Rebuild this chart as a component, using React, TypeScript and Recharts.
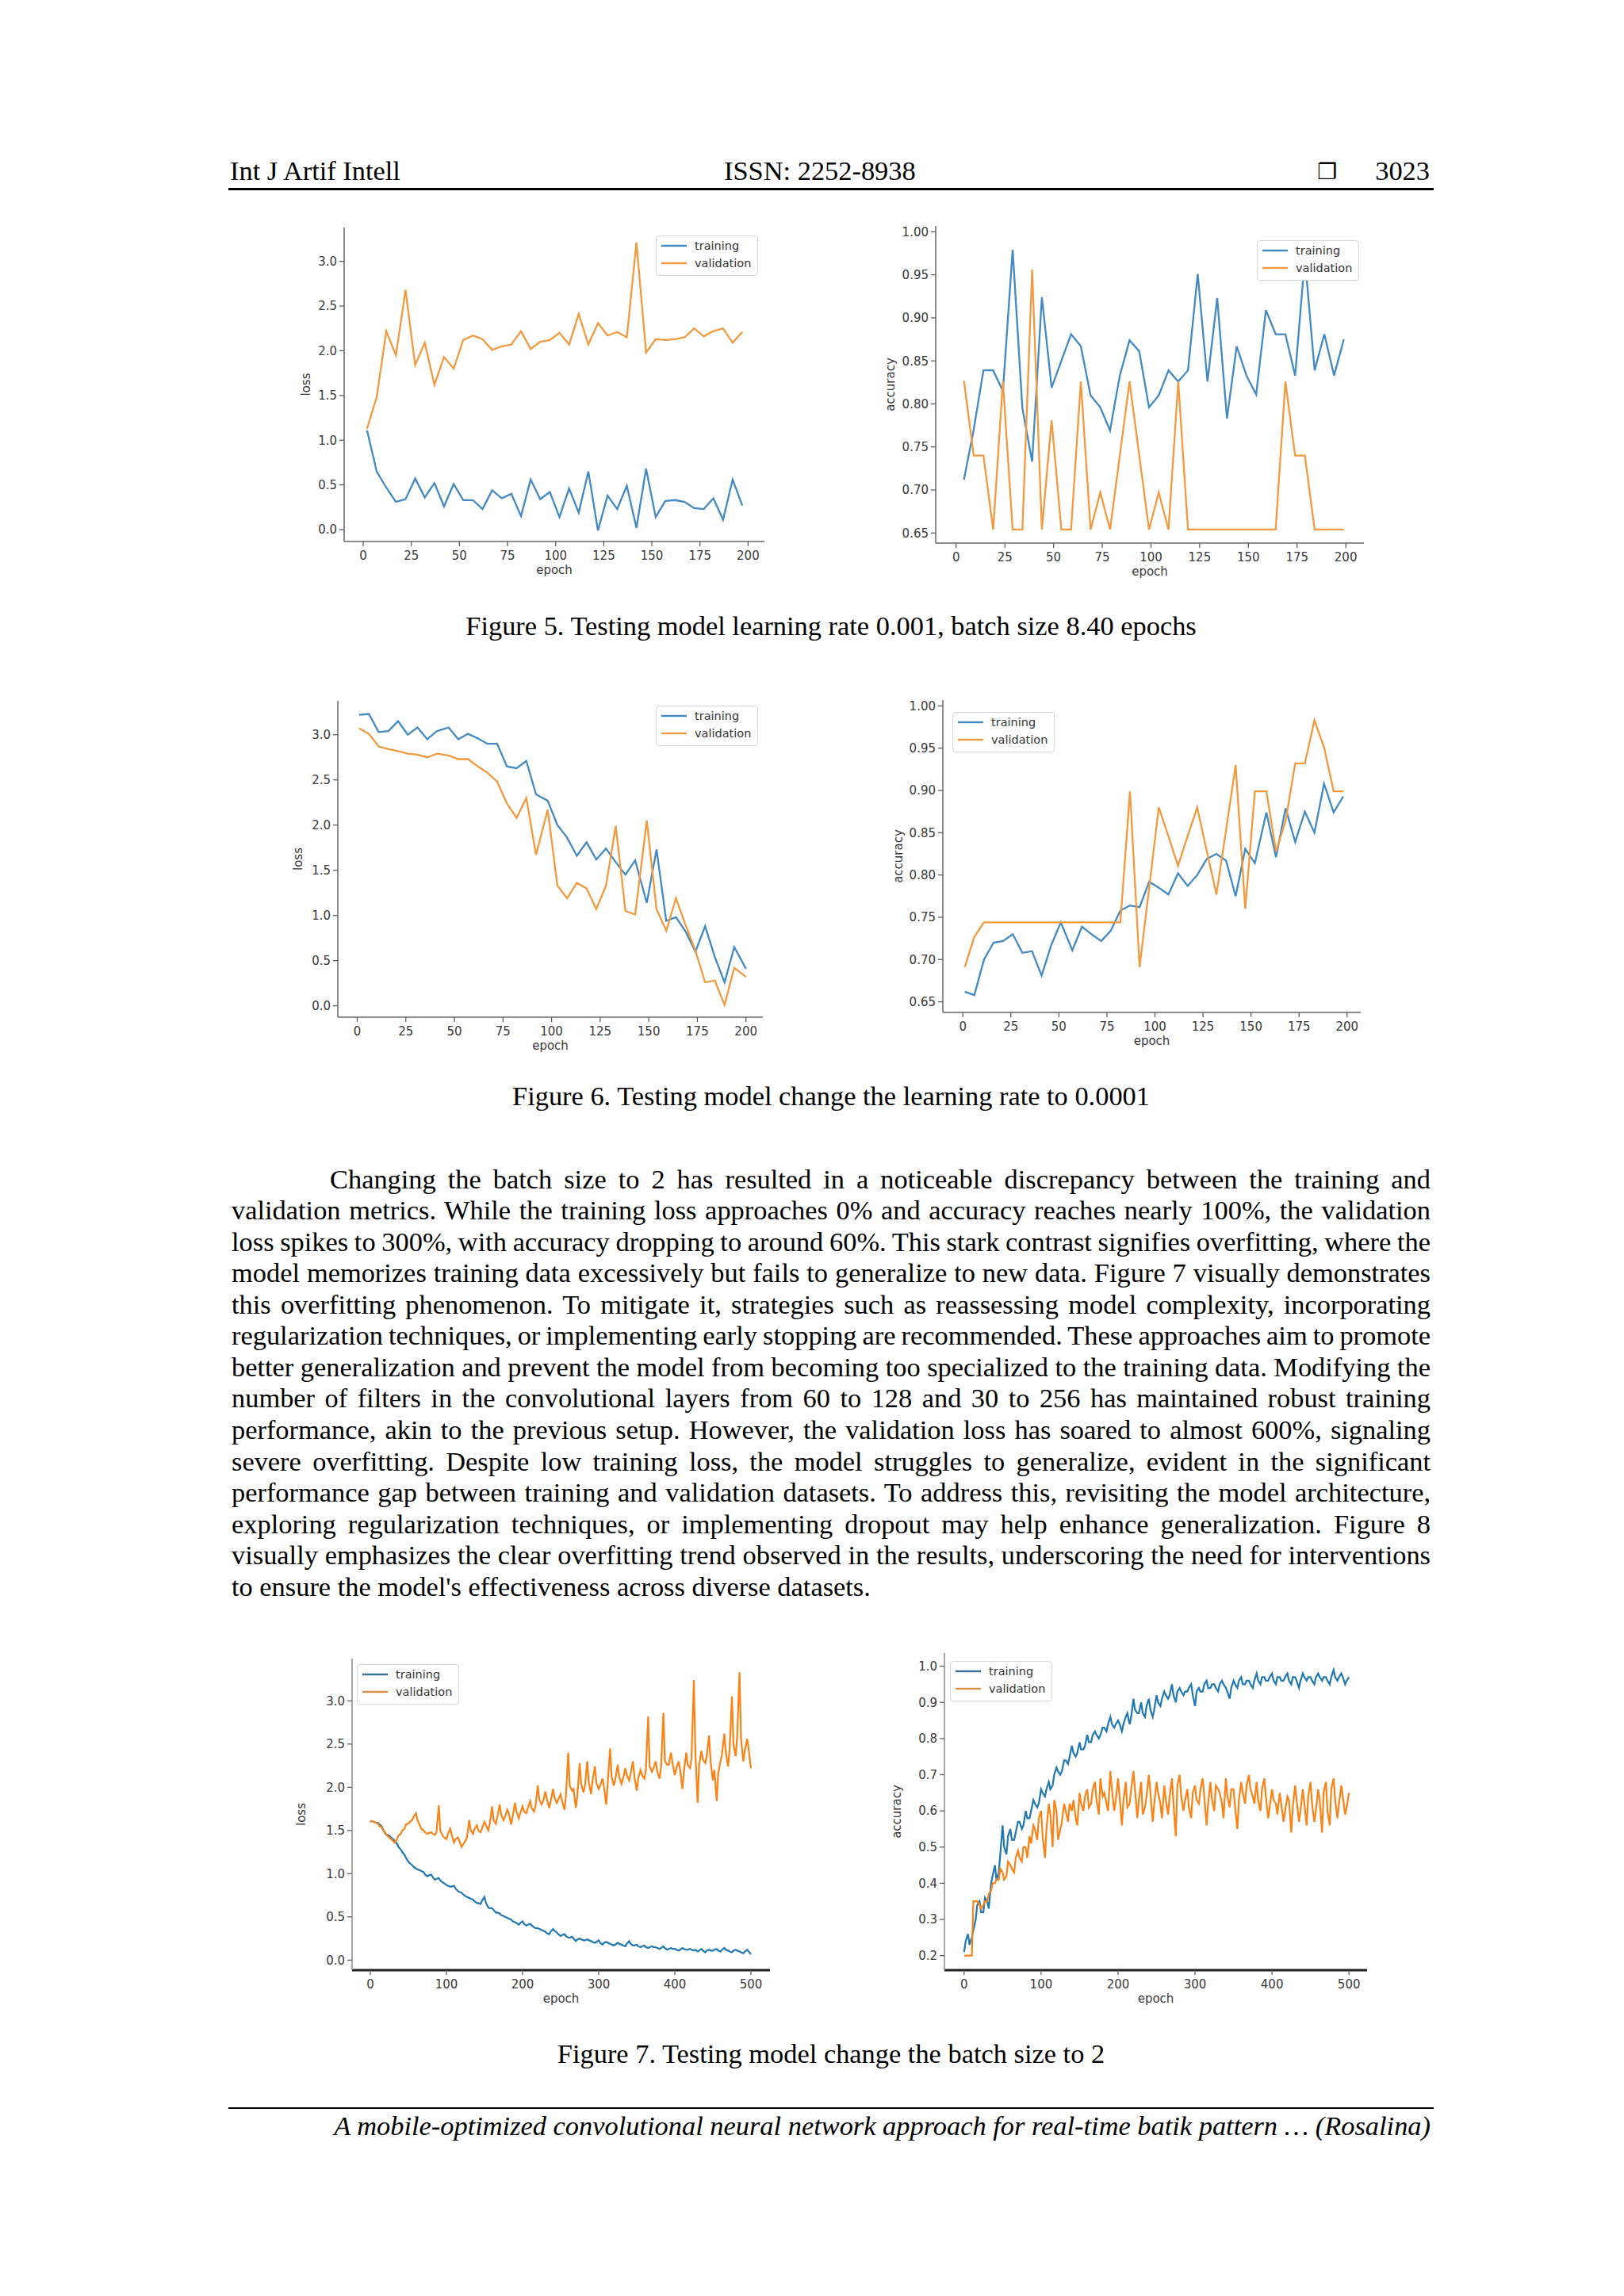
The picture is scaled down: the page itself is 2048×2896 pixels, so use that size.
import React from "react";
import { LineChart, Line, XAxis, YAxis, Legend } from "recharts";

// ── Figure 5: lr 0.001, batch 8, 40 epochs ──────────────────────────────────

const f5LossEpochs = [2, 7, 12, 17, 22, 27, 32, 37, 42, 47, 52, 57, 62, 67, 72, 77, 82, 87, 92, 97, 102, 107, 112, 117, 122, 127, 132, 137, 142, 147, 152, 157, 162, 167, 172, 177, 182, 187, 192, 197];
const f5LossTrain = [1.11, 0.65, 0.47, 0.31, 0.34, 0.57, 0.36, 0.52, 0.26, 0.51, 0.33, 0.33, 0.23, 0.44, 0.35, 0.40, 0.15, 0.56, 0.34, 0.42, 0.14, 0.46, 0.19, 0.65, -0.01, 0.38, 0.23, 0.49, 0.02, 0.68, 0.14, 0.32, 0.33, 0.31, 0.24, 0.23, 0.35, 0.11, 0.56, 0.27];
const f5LossVal = [1.13, 1.48, 2.22, 1.95, 2.68, 1.84, 2.09, 1.62, 1.93, 1.80, 2.12, 2.17, 2.13, 2.01, 2.05, 2.07, 2.22, 2.02, 2.10, 2.12, 2.20, 2.07, 2.41, 2.07, 2.31, 2.17, 2.21, 2.15, 3.21, 1.98, 2.13, 2.12, 2.13, 2.15, 2.25, 2.16, 2.22, 2.25, 2.09, 2.21];

const f5AccEpochs = [4, 9, 14, 19, 24, 29, 34, 39, 44, 49, 54, 59, 64, 69, 74, 79, 84, 89, 94, 99, 104, 109, 114, 119, 124, 129, 134, 139, 144, 149, 154, 159, 164, 169, 174, 179, 184, 189, 194, 199];
const f5AccTrain = [0.712, 0.77, 0.839, 0.839, 0.815, 0.979, 0.795, 0.733, 0.924, 0.819, 0.85, 0.881, 0.867, 0.81, 0.796, 0.769, 0.833, 0.874, 0.861, 0.796, 0.81, 0.839, 0.826, 0.839, 0.951, 0.826, 0.923, 0.783, 0.867, 0.833, 0.811, 0.909, 0.881, 0.881, 0.833, 0.970, 0.839, 0.881, 0.833, 0.875];
const f5AccVal = [0.827, 0.74, 0.74, 0.654, 0.826, 0.654, 0.654, 0.956, 0.654, 0.781, 0.654, 0.654, 0.826, 0.654, 0.697, 0.654, 0.74, 0.826, 0.74, 0.654, 0.697, 0.654, 0.826, 0.654, 0.654, 0.654, 0.654, 0.654, 0.654, 0.654, 0.654, 0.654, 0.654, 0.826, 0.74, 0.74, 0.654, 0.654, 0.654, 0.654];

// ── Figure 6: lr 0.0001 ──────────────────────────────────────────────────────

const f6LossEpochs = [1, 6, 11, 16, 21, 26, 31, 36, 41, 47, 52, 57, 62, 67, 72, 77, 82, 87, 92, 98, 103, 108, 113, 118, 123, 128, 133, 138, 143, 149, 154, 159, 164, 169, 174, 179, 184, 189, 194, 200];
const f6LossTrain = [3.22, 3.23, 3.03, 3.04, 3.15, 3.00, 3.08, 2.95, 3.04, 3.08, 2.95, 3.01, 2.96, 2.90, 2.90, 2.65, 2.63, 2.71, 2.34, 2.27, 2.00, 1.86, 1.66, 1.81, 1.62, 1.74, 1.59, 1.45, 1.61, 1.14, 1.73, 0.94, 0.98, 0.82, 0.60, 0.88, 0.54, 0.26, 0.65, 0.41];
const f6LossVal = [3.07, 3.01, 2.87, 2.84, 2.82, 2.79, 2.78, 2.75, 2.79, 2.77, 2.73, 2.73, 2.65, 2.58, 2.48, 2.24, 2.08, 2.30, 1.67, 2.17, 1.33, 1.19, 1.36, 1.30, 1.07, 1.33, 1.99, 1.05, 1.01, 2.05, 1.07, 0.83, 1.19, 0.89, 0.61, 0.26, 0.28, 0.01, 0.42, 0.32];

const f6AccEpochs = [1, 6, 11, 16, 21, 26, 31, 36, 41, 46, 51, 57, 62, 67, 72, 77, 82, 87, 92, 97, 102, 107, 112, 117, 122, 127, 132, 137, 142, 147, 152, 158, 163, 168, 173, 178, 183, 188, 193, 198];
const f6AccTrain = [0.662, 0.658, 0.70, 0.72, 0.722, 0.73, 0.708, 0.71, 0.681, 0.717, 0.744, 0.711, 0.739, 0.73, 0.722, 0.734, 0.758, 0.764, 0.762, 0.792, 0.785, 0.777, 0.802, 0.787, 0.80, 0.819, 0.825, 0.817, 0.775, 0.831, 0.814, 0.874, 0.821, 0.879, 0.839, 0.875, 0.85, 0.908, 0.874, 0.893];
const f6AccVal = [0.691, 0.727, 0.744, 0.744, 0.744, 0.744, 0.744, 0.744, 0.744, 0.744, 0.744, 0.744, 0.744, 0.744, 0.744, 0.744, 0.744, 0.899, 0.691, 0.785, 0.88, 0.846, 0.811, 0.846, 0.88, 0.828, 0.777, 0.853, 0.93, 0.76, 0.899, 0.899, 0.828, 0.864, 0.932, 0.932, 0.983, 0.951, 0.899, 0.899];

// ── Figure 7: batch size 2, 500 epochs ───────────────────────────────────────
// read at every 5th epoch, plus a second pass at the epochs in between (2, 7, 12, ...)

const f7Epochs = [
  0, 5, 10, 15, 20, 25, 30, 35, 40, 45, 50, 55, 60, 65, 70, 75, 80, 85, 90, 95,
  100, 105, 110, 115, 120, 125, 130, 135, 140, 145, 150, 155, 160, 165, 170, 175, 180, 185, 190, 195,
  200, 205, 210, 215, 220, 225, 230, 235, 240, 245, 250, 255, 260, 265, 270, 275, 280, 285, 290, 295,
  300, 305, 310, 315, 320, 325, 330, 335, 340, 345, 350, 355, 360, 365, 370, 375, 380, 385, 390, 395,
  400, 405, 410, 415, 420, 425, 430, 435, 440, 445, 450, 455, 460, 465, 470, 475, 480, 485, 490, 495, 500,
];
const f7MidEpochs = [
  2, 7, 12, 17, 22, 27, 32, 37, 42, 47, 52, 57, 62, 67, 72, 77, 82, 87, 92, 97,
  102, 107, 112, 117, 122, 127, 132, 137, 142, 147, 152, 157, 162, 167, 172, 177, 182, 187, 192, 197,
  202, 207, 212, 217, 222, 227, 232, 237, 242, 247, 252, 257, 262, 267, 272, 277, 282, 287, 292, 297,
  302, 307, 312, 317, 322, 327, 332, 337, 342, 347, 352, 357, 362, 367, 372, 377, 382, 387, 392, 397,
  402, 407, 412, 417, 422, 427, 432, 437, 442, 447, 452, 457, 462, 467, 472, 477, 482, 487, 492, 497,
];

const f7LossTrain = [
  1.60, 1.60, 1.59, 1.55, 1.46, 1.44, 1.40, 1.35, 1.28, 1.22,
  1.14, 1.10, 1.06, 1.04, 1.02, 0.97, 0.99, 0.93, 0.95, 0.90,
  0.87, 0.85, 0.86, 0.80, 0.78, 0.74, 0.72, 0.70, 0.66, 0.65,
  0.73, 0.61, 0.60, 0.55, 0.54, 0.51, 0.49, 0.47, 0.44, 0.41,
  0.45, 0.40, 0.42, 0.38, 0.37, 0.35, 0.33, 0.30, 0.36, 0.32,
  0.28, 0.30, 0.26, 0.27, 0.22, 0.25, 0.23, 0.24, 0.22, 0.20,
  0.23, 0.18, 0.21, 0.19, 0.17, 0.20, 0.18, 0.16, 0.22, 0.17,
  0.18, 0.15, 0.17, 0.14, 0.16, 0.15, 0.13, 0.16, 0.12, 0.14,
  0.13, 0.11, 0.14, 0.12, 0.13, 0.11, 0.10, 0.13, 0.09, 0.12,
  0.11, 0.13, 0.10, 0.14, 0.11, 0.09, 0.12, 0.10, 0.08, 0.12,
  0.07,
];
const f7LossTrainMid = [
  1.61, 1.59, 1.57, 1.51, 1.45, 1.42, 1.38, 1.31, 1.25, 1.18,
  1.12, 1.08, 1.05, 1.03, 0.99, 0.98, 0.96, 0.94, 0.92, 0.89,
  0.86, 0.85, 0.83, 0.79, 0.76, 0.73, 0.71, 0.68, 0.66, 0.69,
  0.66, 0.60, 0.58, 0.55, 0.52, 0.50, 0.48, 0.45, 0.43, 0.43,
  0.42, 0.41, 0.40, 0.37, 0.36, 0.34, 0.31, 0.33, 0.34, 0.30,
  0.29, 0.28, 0.26, 0.25, 0.24, 0.24, 0.23, 0.23, 0.21, 0.21,
  0.20, 0.20, 0.20, 0.18, 0.18, 0.19, 0.17, 0.19, 0.19, 0.17,
  0.16, 0.16, 0.15, 0.15, 0.15, 0.14, 0.14, 0.14, 0.13, 0.13,
  0.12, 0.12, 0.13, 0.12, 0.12, 0.12, 0.11, 0.11, 0.11, 0.11,
  0.12, 0.11, 0.12, 0.12, 0.10, 0.11, 0.11, 0.09, 0.10, 0.10,
];
const f7LossVal = [
  1.60, 1.60, 1.58, 1.54, 1.47, 1.42, 1.38, 1.40, 1.46, 1.52,
  1.58, 1.62, 1.70, 1.56, 1.50, 1.46, 1.48, 1.45, 1.79, 1.44,
  1.40, 1.52, 1.36, 1.42, 1.31, 1.38, 1.62, 1.46, 1.56, 1.48,
  1.60, 1.50, 1.78, 1.58, 1.80, 1.62, 1.74, 1.57, 1.82, 1.64,
  1.78, 1.70, 1.84, 1.72, 2.02, 1.80, 1.95, 1.76, 1.98, 1.82,
  1.92, 1.74, 2.40, 1.96, 1.76, 2.28, 1.94, 2.30, 1.92, 2.24,
  1.98, 2.10, 1.80, 2.45, 2.02, 2.26, 2.04, 2.22, 2.08, 2.30,
  1.96, 2.20, 2.10, 2.82, 2.18, 2.30, 2.10, 2.86, 2.26, 2.40,
  2.14, 2.30, 1.98, 2.40, 2.22, 3.24, 1.82, 2.42, 2.28, 2.60,
  2.08, 1.84, 2.30, 2.62, 2.24, 3.05, 2.36, 3.33, 2.30, 2.56,
  2.22,
];
const f7LossValMid = [
  1.61, 1.59, 1.55, 1.50, 1.44, 1.40, 1.36, 1.44, 1.50, 1.57,
  1.60, 1.66, 1.62, 1.52, 1.48, 1.47, 1.46, 1.48, 1.50, 1.42,
  1.46, 1.45, 1.40, 1.38, 1.34, 1.42, 1.50, 1.52, 1.50, 1.53,
  1.56, 1.58, 1.62, 1.66, 1.68, 1.66, 1.70, 1.66, 1.72, 1.70,
  1.72, 1.76, 1.76, 1.78, 1.86, 1.84, 1.86, 1.84, 1.88, 1.86,
  1.84, 1.90, 2.02, 1.98, 1.90, 2.04, 2.02, 2.06, 2.08, 2.05,
  2.02, 2.00, 2.06, 2.12, 2.10, 2.12, 2.10, 2.14, 2.16, 2.12,
  2.10, 2.14, 2.20, 2.24, 2.22, 2.18, 2.24, 2.30, 2.26, 2.28,
  2.22, 2.20, 2.18, 2.26, 2.34, 2.40, 2.26, 2.32, 2.36, 2.30,
  2.20, 2.16, 2.38, 2.40, 2.44, 2.50, 2.60, 2.56, 2.42, 2.44,
];

const f7AccTrain = [
  0.21, 0.26, 0.25, 0.30, 0.35, 0.32, 0.35, 0.40, 0.45, 0.43,
  0.56, 0.48, 0.55, 0.52, 0.57, 0.55, 0.60, 0.58, 0.63, 0.61,
  0.66, 0.64, 0.68, 0.67, 0.72, 0.70, 0.74, 0.73, 0.78, 0.75,
  0.79, 0.77, 0.81, 0.79, 0.82, 0.80, 0.83, 0.82, 0.86, 0.83,
  0.85, 0.82, 0.86, 0.84, 0.91, 0.87, 0.90, 0.86, 0.91, 0.86,
  0.92, 0.89, 0.93, 0.91, 0.95, 0.90, 0.94, 0.92, 0.93, 0.95,
  0.89, 0.94, 0.93, 0.96, 0.94, 0.95, 0.93, 0.96, 0.94, 0.91,
  0.96, 0.94, 0.97, 0.95, 0.96, 0.94, 0.98, 0.95, 0.97, 0.96,
  0.98, 0.95, 0.97, 0.96, 0.98, 0.95, 0.97, 0.94, 0.98, 0.96,
  0.97, 0.95, 0.98, 0.96, 0.97, 0.95, 0.99, 0.96, 0.98, 0.95,
  0.97,
];
const f7AccTrainMid = [
  0.24, 0.23, 0.27, 0.34, 0.32, 0.36, 0.33, 0.42, 0.41, 0.48,
  0.50, 0.53, 0.52, 0.54, 0.57, 0.56, 0.58, 0.60, 0.62, 0.62,
  0.65, 0.66, 0.66, 0.70, 0.71, 0.71, 0.74, 0.75, 0.76, 0.76,
  0.77, 0.78, 0.79, 0.81, 0.81, 0.81, 0.83, 0.84, 0.84, 0.84,
  0.84, 0.84, 0.87, 0.86, 0.88, 0.87, 0.87, 0.89, 0.88, 0.88,
  0.90, 0.91, 0.92, 0.92, 0.92, 0.93, 0.93, 0.93, 0.94, 0.92,
  0.93, 0.93, 0.95, 0.94, 0.95, 0.94, 0.95, 0.95, 0.93, 0.94,
  0.95, 0.96, 0.95, 0.96, 0.95, 0.96, 0.96, 0.97, 0.96, 0.97,
  0.96, 0.97, 0.96, 0.97, 0.96, 0.97, 0.96, 0.96, 0.97, 0.97,
  0.96, 0.97, 0.97, 0.97, 0.96, 0.97, 0.97, 0.97, 0.97, 0.96,
];
const f7AccVal = [
  0.20, 0.20, 0.20, 0.35, 0.34, 0.34, 0.35, 0.38, 0.40, 0.41,
  0.43, 0.42, 0.45, 0.43, 0.49, 0.46, 0.50, 0.53, 0.56, 0.52,
  0.60, 0.47, 0.62, 0.50, 0.60, 0.55, 0.62, 0.57, 0.60, 0.58,
  0.65, 0.60, 0.66, 0.62, 0.68, 0.59, 0.64, 0.62, 0.71, 0.60,
  0.69, 0.56, 0.68, 0.62, 0.71, 0.58, 0.68, 0.61, 0.70, 0.57,
  0.68, 0.62, 0.67, 0.59, 0.69, 0.53, 0.70, 0.60, 0.66, 0.58,
  0.67, 0.62, 0.69, 0.56, 0.68, 0.60, 0.66, 0.62, 0.69, 0.61,
  0.66, 0.55, 0.68, 0.62, 0.70, 0.64, 0.68, 0.60, 0.69, 0.58,
  0.66, 0.62, 0.65, 0.57, 0.64, 0.54, 0.67, 0.57, 0.66, 0.56,
  0.68, 0.57, 0.66, 0.54, 0.68, 0.56, 0.69, 0.58, 0.67, 0.59,
  0.65,
];
const f7AccValMid = [
  0.20, 0.20, 0.35, 0.35, 0.33, 0.35, 0.37, 0.40, 0.41, 0.44,
  0.41, 0.46, 0.44, 0.47, 0.47, 0.50, 0.47, 0.51, 0.55, 0.58,
  0.53, 0.55, 0.59, 0.63, 0.52, 0.57, 0.60, 0.62, 0.63, 0.56,
  0.62, 0.64, 0.61, 0.66, 0.63, 0.69, 0.65, 0.60, 0.66, 0.63,
  0.64, 0.63, 0.61, 0.66, 0.66, 0.63, 0.59, 0.64, 0.65, 0.62,
  0.65, 0.58, 0.63, 0.64, 0.62, 0.67, 0.64, 0.63, 0.61, 0.65,
  0.63, 0.66, 0.64, 0.62, 0.63, 0.67, 0.65, 0.58, 0.64, 0.66,
  0.61, 0.63, 0.65, 0.67, 0.66, 0.62, 0.63, 0.66, 0.64, 0.61,
  0.63, 0.59, 0.62, 0.60, 0.63, 0.61, 0.63, 0.60, 0.62, 0.64,
  0.62, 0.60, 0.63, 0.65, 0.60, 0.66, 0.63, 0.62, 0.64, 0.61,
];

// ── Tick labels ──────────────────────────────────────────────────────────────

const ticks200 = [0, 25, 50, 75, 100, 125, 150, 175, 200];
const ticks500 = [0, 100, 200, 300, 400, 500];
const lossTicks = [0, 0.5, 1.0, 1.5, 2.0, 2.5, 3.0];
const accTicks = [0.65, 0.7, 0.75, 0.8, 0.85, 0.9, 0.95, 1.0];
const acc7Ticks = [0.2, 0.3, 0.4, 0.5, 0.6, 0.7, 0.8, 0.9, 1.0];

// ── Page text ────────────────────────────────────────────────────────────────

const BODY_LINES = [
  "Changing the batch size to 2 has resulted in a noticeable discrepancy between the training and",
  "validation metrics. While the training loss approaches 0% and accuracy reaches nearly 100%, the validation",
  "loss spikes to 300%, with accuracy dropping to around 60%. This stark contrast signifies overfitting, where the",
  "model memorizes training data excessively but fails to generalize to new data. Figure 7 visually demonstrates",
  "this overfitting phenomenon. To mitigate it, strategies such as reassessing model complexity, incorporating",
  "regularization techniques, or implementing early stopping are recommended. These approaches aim to promote",
  "better generalization and prevent the model from becoming too specialized to the training data. Modifying the",
  "number of filters in the convolutional layers from 60 to 128 and 30 to 256 has maintained robust training",
  "performance, akin to the previous setup. However, the validation loss has soared to almost 600%, signaling",
  "severe overfitting. Despite low training loss, the model struggles to generalize, evident in the significant",
  "performance gap between training and validation datasets. To address this, revisiting the model architecture,",
  "exploring regularization techniques, or implementing dropout may help enhance generalization. Figure 8",
  "visually emphasizes the clear overfitting trend observed in the results, underscoring the need for interventions",
  "to ensure the model's effectiveness across diverse datasets.",
];

// ── Layout constants ─────────────────────────────────────────────────────────

const SERIF = "'Liberation Serif', 'Times New Roman', serif";
const SANS = "'DejaVu Sans', sans-serif";
const FS = 34.4;
const LH = 39.55;
const BASE = 31.4; // baseline offset inside a LH-high line box
const YW = 90;
const XH = 60;
const MT = 12;
const MR = 12;

type Frame = { l: number; t: number; r: number; b: number };
type Run = { epochs: number[]; train: number[]; val: number[] };
type Panel = {
  runs: Run[];
  frame: Frame;
  xDomain: [number, number];
  yDomain: [number, number];
  xTicks: number[];
  yTicks: number[];
  digits: number;
  yLabel: string;
  yLabelGap: number;
  legendLeft: number;
  legendTop: number;
  heavy: boolean;
};

const PANELS: Panel[] = [
  { runs: [{ epochs: f5LossEpochs, train: f5LossTrain, val: f5LossVal }], frame: { l: 434, t: 287, r: 964, b: 683 }, xDomain: [-9.9, 208.5], yDomain: [-0.133, 3.378], xTicks: ticks200, yTicks: lossTicks, digits: 1, yLabel: "loss", yLabelGap: 48, legendLeft: 393, legendTop: 10, heavy: false },
  { runs: [{ epochs: f5AccEpochs, train: f5AccTrain, val: f5AccVal }], frame: { l: 1180, t: 285, r: 1720, b: 685 }, xDomain: [-10.5, 209.3], yDomain: [0.6383, 1.0068], xTicks: ticks200, yTicks: accTicks, digits: 2, yLabel: "accuracy", yLabelGap: 57, legendLeft: 405, legendTop: 18, heavy: false },
  { runs: [{ epochs: f6LossEpochs, train: f6LossTrain, val: f6LossVal }], frame: { l: 426, t: 884, r: 962, b: 1283 }, xDomain: [-10, 208.7], yDomain: [-0.126, 3.375], xTicks: ticks200, yTicks: lossTicks, digits: 1, yLabel: "loss", yLabelGap: 50, legendLeft: 401, legendTop: 6, heavy: false },
  { runs: [{ epochs: f6AccEpochs, train: f6AccTrain, val: f6AccVal }], frame: { l: 1189, t: 883, r: 1716, b: 1277 }, xDomain: [-10.4, 207.1], yDomain: [0.6375, 1.0069], xTicks: ticks200, yTicks: accTicks, digits: 2, yLabel: "accuracy", yLabelGap: 56, legendLeft: 12, legendTop: 15, heavy: false },
  {
    runs: [
      { epochs: f7Epochs, train: f7LossTrain, val: f7LossVal },
      { epochs: f7MidEpochs, train: f7LossTrainMid, val: f7LossValMid },
    ],
    frame: { l: 444, t: 2092, r: 971, b: 2485 }, xDomain: [-23.9, 525], yDomain: [-0.116, 3.489], xTicks: ticks500, yTicks: lossTicks, digits: 1, yLabel: "loss", yLabelGap: 64, legendLeft: 6, legendTop: 7, heavy: true,
  },
  {
    runs: [
      { epochs: f7Epochs, train: f7AccTrain, val: f7AccVal },
      { epochs: f7MidEpochs, train: f7AccTrainMid, val: f7AccValMid },
    ],
    frame: { l: 1191, t: 2085, r: 1724, b: 2485 }, xDomain: [-25.6, 523.5], yDomain: [0.1598, 1.0365], xTicks: ticks500, yTicks: acc7Ticks, digits: 1, yLabel: "accuracy", yLabelGap: 60, legendLeft: 7, legendTop: 10, heavy: true,
  },
];

// ── Chart pieces ─────────────────────────────────────────────────────────────

function LegendBox({ trainColor, valColor }: { trainColor: string; valColor: string }) {
  const row = (color: string, text: string) => (
    <div style={{ display: "flex", alignItems: "center", height: 22 }}>
      <svg width={32} height={4} style={{ marginRight: 10 }}>
        <line x1={0} y1={2} x2={32} y2={2} stroke={color} strokeWidth={2.4} />
      </svg>
      <span style={{ fontFamily: SANS, fontSize: 14.5, color: "#333", lineHeight: "22px" }}>{text}</span>
    </div>
  );
  return (
    <div style={{ border: "1px solid #d6d6d6", borderRadius: 4, background: "#fff", padding: "1px 8px 4px 6px", whiteSpace: "nowrap" }}>
      {row(trainColor, "training")}
      {row(valColor, "validation")}
    </div>
  );
}

function TrainingPlot({ p }: { p: Panel }) {
  const data = p.runs
    .flatMap((r) => r.epochs.map((e, i) => ({ epoch: e, training: r.train[i], validation: r.val[i] })))
    .sort((a, b) => a.epoch - b.epoch);
  const plotW = p.frame.r - p.frame.l;
  const plotH = p.frame.b - p.frame.t;
  const W = YW + plotW + MR;
  const H = MT + plotH + XH;
  const trainColor = p.heavy ? "#1f77b4" : "#4389c3";
  const valColor = p.heavy ? "#fb8215" : "#f39a40";
  const side = p.heavy ? "#8a8a8a" : "#666";
  const topBottom = p.heavy ? "#1e1e1e" : "#666";
  const tbWidth = p.heavy ? 3 : 1.6;
  const tick = { fontSize: 15, fill: "#383838", fontFamily: SANS };

  return (
    <div style={{ position: "absolute", left: p.frame.l - YW, top: p.frame.t - MT }}>
      <LineChart width={W} height={H} data={data} margin={{ top: MT, right: MR, bottom: 0, left: 0 }}>
        <XAxis
          type="number"
          dataKey="epoch"
          domain={p.xDomain}
          ticks={p.xTicks}
          interval={0}
          allowDataOverflow
          height={XH}
          tickSize={6}
          tickMargin={6}
          tick={tick}
          axisLine={{ stroke: topBottom, strokeWidth: tbWidth }}
          tickLine={{ stroke: "#555", strokeWidth: 1.2 }}
          label={{
            content: (lp: any) => {
              const vb = lp.viewBox || {};
              return (
                <text x={vb.x + vb.width / 2} y={vb.y + 36} textAnchor="middle" dominantBaseline="central" fontFamily={SANS} fontSize={15} fill="#383838">
                  epoch
                </text>
              );
            },
          }}
        />
        <XAxis xAxisId="top" orientation="top" type="number" domain={p.xDomain} allowDataOverflow height={0} tick={false} tickLine={false} axisLine={{ stroke: topBottom, strokeWidth: tbWidth }} />
        <YAxis
          type="number"
          domain={p.yDomain}
          ticks={p.yTicks}
          interval={0}
          allowDataOverflow
          width={YW}
          tickSize={6}
          tickMargin={3}
          tick={tick}
          tickFormatter={(v: number) => v.toFixed(p.digits)}
          axisLine={{ stroke: side, strokeWidth: 1.5 }}
          tickLine={{ stroke: "#555", strokeWidth: 1.2 }}
          label={{
            content: (lp: any) => {
              const vb = lp.viewBox || {};
              const cx = vb.x + vb.width - p.yLabelGap;
              const cy = vb.y + vb.height / 2;
              return (
                <text x={cx} y={cy} transform={`rotate(-90 ${cx} ${cy})`} textAnchor="middle" dominantBaseline="central" fontFamily={SANS} fontSize={15} fill="#383838">
                  {p.yLabel}
                </text>
              );
            },
          }}
        />
        <YAxis yAxisId="right" orientation="right" type="number" domain={p.yDomain} allowDataOverflow width={0} tick={false} tickLine={false} axisLine={{ stroke: side, strokeWidth: 1.5 }} />
        <Line type="linear" dataKey="training" stroke={trainColor} strokeWidth={p.heavy ? 2.2 : 2.3} dot={false} activeDot={false} isAnimationActive={false} />
        <Line type="linear" dataKey="validation" stroke={valColor} strokeWidth={p.heavy ? 2.2 : 2.3} dot={false} activeDot={false} isAnimationActive={false} />
        <Legend
          layout="vertical"
          align="center"
          verticalAlign="middle"
          wrapperStyle={{ left: YW + p.legendLeft, top: MT + p.legendTop, width: "auto", height: "auto" }}
          content={() => <LegendBox trainColor={p.heavy ? "#3a6f95" : trainColor} valColor={p.heavy ? "#d99245" : valColor} />}
        />
      </LineChart>
    </div>
  );
}

// ── Page ─────────────────────────────────────────────────────────────────────

function TextAt({ left, baseline, width, align, children, style }: { left: number; baseline: number; width?: number; align?: "left" | "center" | "right"; children: React.ReactNode; style?: React.CSSProperties }) {
  return (
    <div style={{ position: "absolute", left, top: baseline - BASE, width, height: LH, lineHeight: `${LH}px`, fontSize: FS, textAlign: align || "left", whiteSpace: "nowrap", ...style }}>
      {children}
    </div>
  );
}

export default function App() {
  const bodyTop = 1499 - BASE;
  return (
    <div style={{ position: "absolute", left: 0, top: 0, width: 2048, height: 2896, background: "#fff", fontFamily: SERIF, color: "#000", overflow: "hidden" }}>
      {/* running header */}
      <TextAt left={290} baseline={227}>Int J Artif Intell</TextAt>
      <TextAt left={913} baseline={227}>ISSN: 2252-8938</TextAt>
      <div style={{ position: "absolute", left: 1661, top: 197, height: 40, lineHeight: "40px", fontFamily: SANS, fontSize: 28 }}>❐</div>
      <TextAt left={0} width={1803} align="right" baseline={227}>3023</TextAt>
      <div style={{ position: "absolute", left: 288, top: 237, width: 1520, height: 3, background: "#000" }} />

      {PANELS.map((p, i) => (
        <TrainingPlot key={i} p={p} />
      ))}

      <TextAt left={292} width={1512} align="center" baseline={801}>Figure 5. Testing model learning rate 0.001, batch size 8.40 epochs</TextAt>
      <TextAt left={292} width={1512} align="center" baseline={1394}>Figure 6. Testing model change the learning rate to 0.0001</TextAt>

      {BODY_LINES.map((line, i) => (
        <div
          key={i}
          style={{
            position: "absolute",
            left: 292,
            top: bodyTop + i * LH,
            width: 1512,
            height: LH,
            lineHeight: `${LH}px`,
            fontSize: FS,
            boxSizing: "border-box",
            paddingLeft: i === 0 ? 124 : 0,
            wordSpacing: i === BODY_LINES.length - 1 ? 0 : -9,
            textAlign: "justify",
            textAlignLast: i === BODY_LINES.length - 1 ? "left" : "justify",
          }}
        >
          {line}
        </div>
      ))}

      <TextAt left={292} width={1512} align="center" baseline={2602}>Figure 7. Testing model change the batch size to 2</TextAt>

      {/* running footer */}
      <div style={{ position: "absolute", left: 288, top: 2658, width: 1520, height: 2, background: "#000" }} />
      <TextAt left={0} width={1804} align="right" baseline={2693} style={{ fontStyle: "italic" }}>
        A mobile-optimized convolutional neural network approach for real-time batik pattern … (Rosalina)
      </TextAt>
    </div>
  );
}
